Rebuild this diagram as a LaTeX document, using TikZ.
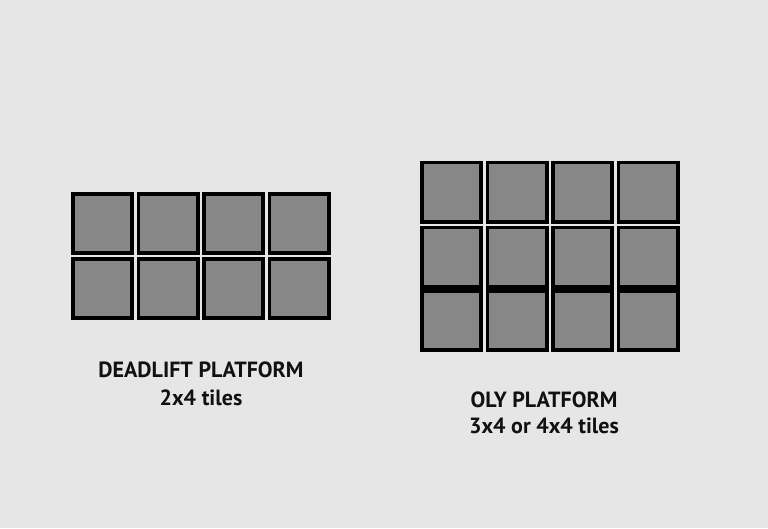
\documentclass[tikz,border=0pt]{standalone}
\usepackage{fontspec}
\setmainfont{PT Sans}
\usepackage{tikz}
\usetikzlibrary{positioning}
\usepackage{xcolor}
\definecolor{bggray}{HTML}{E6E6E6}
\definecolor{tilegray}{HTML}{878787}
\definecolor{inkblack}{HTML}{111111}
\tikzset{
    tile/.style={draw=black, fill=tilegray, line width=3.8pt, minimum width=59.2pt, minimum height=59.2pt, inner sep=0pt},
    caption/.style={text=inkblack, font=\bfseries\fontsize{22}{26}\selectfont, inner sep=0pt, anchor=base}
}

\begin{document}
\begin{tikzpicture}[x=1pt, y=-1pt]
    \fill[bggray] (0,0) rectangle (768,528);
    \useasboundingbox (0,0) rectangle (768,528);

    % deadlift platform, 2 rows of 4
    \foreach \r/\y in {1/223.5, 2/288.5} {
        \foreach \c in {1,...,4} {
            \node[tile] (dl-\r-\c) at ({102.5+65.5*(\c-1)}, \y) {};
        }
    }

    % oly platform, 3 rows of 4
    \foreach \r/\y in {1/192, 2/257, 3/320.5} {
        \foreach \c in {1,...,4} {
            \node[tile] (oly-\r-\c) at ({451.5+65.5*(\c-1)}, \y) {};
        }
    }

    \node[caption] (dltitle) at (201, 377) {DEADLIFT PLATFORM};
    \node[caption] (dlsub) at (201, 405) {2x4 tiles};

    \node[caption] (olytitle) at (544, 407) {OLY PLATFORM};
    \node[caption] (olysub) at (544, 433) {3x4 or 4x4 tiles};
\end{tikzpicture}
\end{document}
